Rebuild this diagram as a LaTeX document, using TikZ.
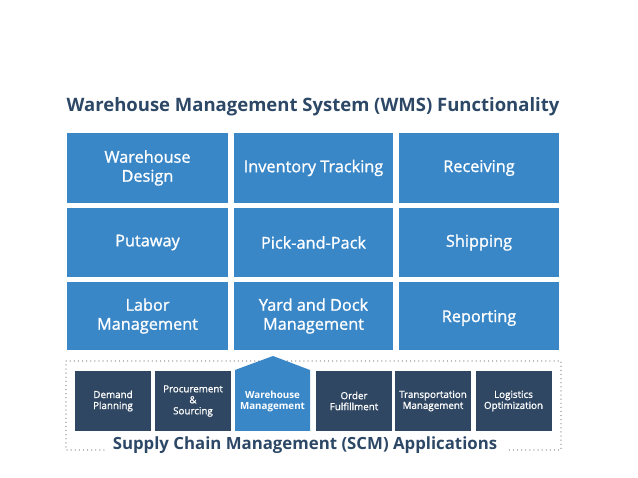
\documentclass[tikz,border=0pt]{standalone}
\usepackage{fontspec}
\setmainfont{Open Sans}
\newfontfamily\medf[FakeBold=1.2]{Open Sans}
\definecolor{bigblue}{HTML}{3A87C8}
\definecolor{navy}{HTML}{2F4762}
\definecolor{titlec}{HTML}{2C4866}
\begin{document}
\begin{tikzpicture}[x=1pt,y=-1pt,
 big/.style={text=white,align=center,font=\medf\fontsize{16.3}{19}\selectfont},
 small/.style={fill=navy,text=white,align=center,font=\medf\fontsize{9.8}{11}\selectfont,minimum width=76pt,minimum height=60pt,inner sep=0pt}]
\useasboundingbox (0,0) rectangle (638,478);
\node[font=\fontsize{18.5}{22}\selectfont\bfseries,text=titlec] (title) at (313,107) {Warehouse Management System (WMS) Functionality};
\foreach \c/\xa/\xb in {1/67/228,2/234/393,3/399/559}{
 \foreach \r/\ya/\yb in {1/133/203,2/208/277,3/282/350}{
  \fill[bigblue] (\xa,\ya) rectangle (\xb,\yb);
 }}
\node[big] (wd) at (147.5,168) {Warehouse\\Design};
\node[big] (it) at (313.5,168) {Inventory Tracking};
\node[big] (rc) at (479,168) {Receiving};
\node[big] (pa) at (147.5,242.5) {Putaway};
\node[big] (pp) at (313.5,242.5) {Pick-and-Pack};
\node[big] (sh) at (479,242.5) {Shipping};
\node[big] (lm) at (147.5,316) {Labor\\Management};
\node[big] (yd) at (313.5,316) {Yard and Dock\\Management};
\node[big] (rp) at (479,318) {Reporting};
\draw[gray!60,line width=1.3pt,dash pattern=on 0.1pt off 4pt,line cap=round] (104,450) -- (66,450) -- (66,361) -- (561,361) -- (561,450) -- (506,450);
\node[font=\fontsize{16.8}{20}\selectfont\bfseries,text=titlec] (scm) at (305,445.5) {Supply Chain Management (SCM) Applications};
\node[small] (dp) at (113,401) {Demand\\Planning};
\node[small] (ps) at (193,401) {Procurement\\\&\\Sourcing};
\fill[bigblue] (235,431) -- (235,370) -- (273,356) -- (310,370) -- (310,431) -- cycle;
\node[text=white,align=center,font=\fontsize{9.8}{11}\selectfont\bfseries] (wm) at (272.5,401) {Warehouse\\Management};
\node[small] (of) at (354,401) {Order\\Fulfillment};
\node[small] (tm) at (433,401) {Transportation\\Management};
\node[small] (lo) at (513.5,401) {Logistics\\Optimization};
\end{tikzpicture}
\end{document}
